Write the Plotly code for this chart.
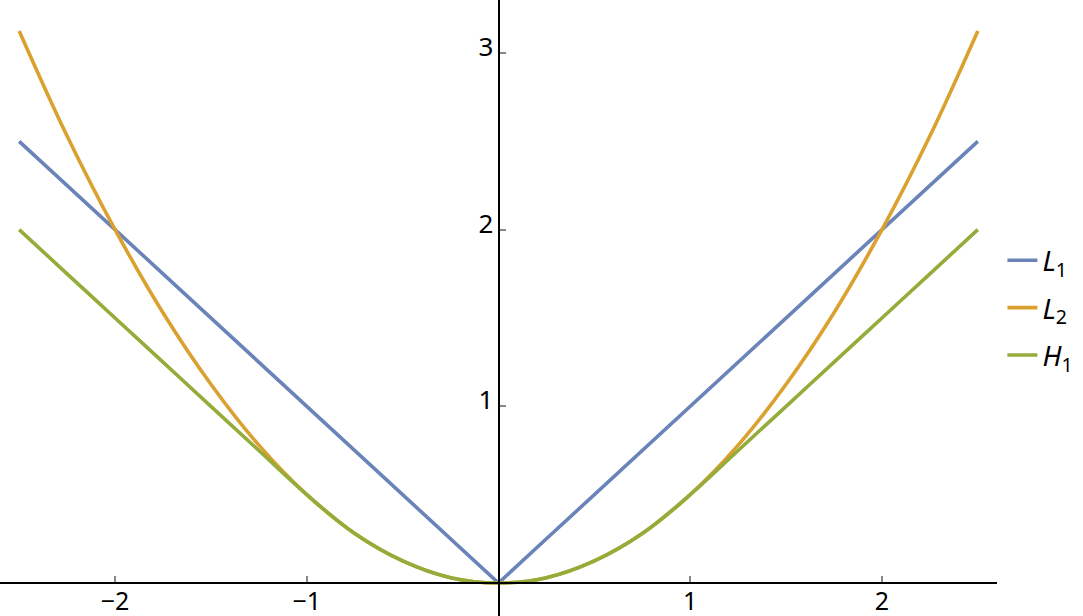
import plotly.graph_objects as go

# values
xs = [-2.5, -2.25, -2.0, -1.75, -1.5, -1.25, -1.0, -0.75, -0.5, -0.25, 0.0,
      0.25, 0.5, 0.75, 1.0, 1.25, 1.5, 1.75, 2.0, 2.25, 2.5]
l1 = [2.5, 2.25, 2.0, 1.75, 1.5, 1.25, 1.0, 0.75, 0.5, 0.25, 0.0,
      0.25, 0.5, 0.75, 1.0, 1.25, 1.5, 1.75, 2.0, 2.25, 2.5]
l2 = [3.125, 2.53, 2.0, 1.53, 1.125, 0.78, 0.5, 0.28, 0.125, 0.03, 0.0,
      0.03, 0.125, 0.28, 0.5, 0.78, 1.125, 1.53, 2.0, 2.53, 3.125]
h1 = [2.0, 1.75, 1.5, 1.25, 1.0, 0.75, 0.5, 0.28, 0.125, 0.03, 0.0,
      0.03, 0.125, 0.28, 0.5, 0.75, 1.0, 1.25, 1.5, 1.75, 2.0]

names = ['<i>L</i><sub>1</sub>', '<i>L</i><sub>2</sub>', '<i>H</i><sub>1</sub>']
colors = ['#6a83b8', '#dba12f', '#93ac3a']

W, H = 1083, 616
plot_right = 997
x_range = [-2.6, 2.6]
y_range = [-0.187, 3.3]

fig = go.Figure()
fig.add_trace(go.Scatter(x=xs, y=l1, mode='lines', name=names[0], legendgroup='a',
                         line=dict(color=colors[0], width=3.6)))
fig.add_trace(go.Scatter(x=xs, y=l2, mode='lines', name=names[1], legendgroup='b',
                         line=dict(color=colors[1], width=3.6, shape='spline', smoothing=1)))
fig.add_trace(go.Scatter(x=xs, y=h1, mode='lines', name=names[2], legendgroup='c',
                         line=dict(color=colors[2], width=3.6, shape='spline', smoothing=1)))

x_dom = plot_right / W
# axes cross at the origin
y_pos = (0 - x_range[0]) / (x_range[1] - x_range[0]) * x_dom
x_pos = (0 - y_range[0]) / (y_range[1] - y_range[0])

fig.update_layout(
    width=W, height=H,
    margin=dict(l=0, r=0, t=0, b=0, autoexpand=False),
    paper_bgcolor='white', plot_bgcolor='white',
    font=dict(family='Noto Sans', size=26, color='black'),
    xaxis=dict(range=x_range, domain=[0, x_dom], anchor='free', position=x_pos,
               automargin=False,
               showgrid=False, zeroline=False, showline=True, linecolor='black', linewidth=2,
               tickvals=[-2, -1, 1, 2], ticktext=['\u22122', '\u22121', '1', '2'],
               tickfont=dict(size=25), ticklabelstandoff=-4,
               ticks='inside', ticklen=6, tickcolor='#888888', tickwidth=1.5),
    yaxis=dict(range=y_range, domain=[0, 1], anchor='free', position=y_pos,
               automargin=False,
               showgrid=False, zeroline=False, showline=True, linecolor='black', linewidth=2,
               tickvals=[1, 2, 3], ticks='inside', ticklen=6, tickcolor='#888888', tickwidth=1.5,
               ticklabelshift=-6, ticklabelstandoff=-1),
    legend=dict(x=x_dom + 0.005, y=0.5, xanchor='left', yanchor='middle',
                font=dict(size=28), tracegroupgap=8, itemwidth=30),
)

# drop the page's default body margin so the figure sits at the window corner
fig.write_html("out.html", config={'displayModeBar': False},
               post_script="document.body.style.margin='0';")
